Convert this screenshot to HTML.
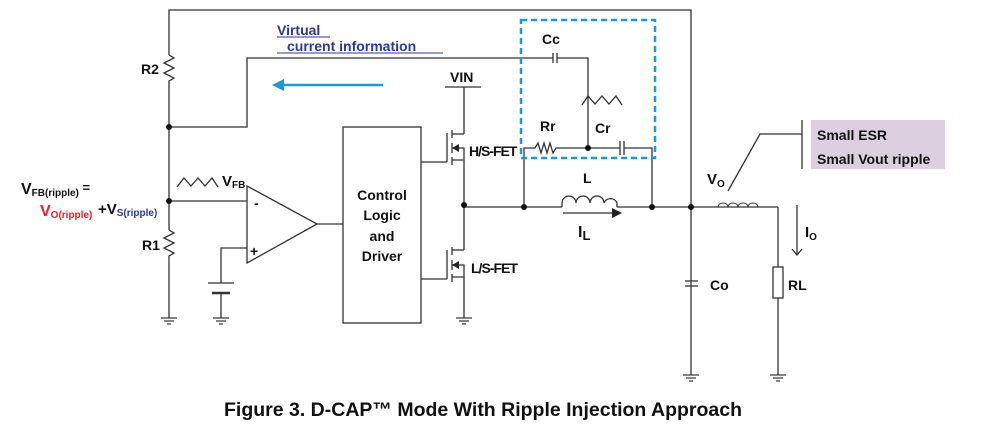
<!DOCTYPE html>
<html><head><meta charset="utf-8"><style>
html,body{margin:0;padding:0;background:#fff;}
svg{display:block;font-family:"Liberation Sans",Arial,sans-serif;font-weight:bold;}
</style></head><body>
<svg width="985" height="441" viewBox="0 0 985 441" xmlns="http://www.w3.org/2000/svg">
<g stroke="#333" stroke-width="1.3" fill="none">
<polyline points="169,55 169,10 691,10 691,375"/>
<polyline points="169,55 174,58 164,63 174,68 164,73 174,78 169,81 169,230"/>
<polyline points="169,230 174,233 164,238 174,243 164,248 174,253 169,256 169,318"/>
<polyline points="169,127 247,127 247,58 553,58"/>
<line x1="553" y1="53" x2="553" y2="63"/><line x1="557" y1="53" x2="557" y2="63"/>
<polyline points="557,58 588,58 588,148"/>
<polyline points="582,105 588,96 595,104 602,96 609,104 616,96 622,105"/>
<polyline points="524,207 524,148 535,148 538,143 541,153 544,143 547,153 550,143 553,153 556,148 588,148 620,148"/>
<line x1="620" y1="141" x2="620" y2="155"/><line x1="624" y1="141" x2="624" y2="155"/>
<polyline points="624,148 652,148 652,207"/>
<line x1="463" y1="207" x2="562" y2="207"/>
<path d="M562,207 v-4 a7,7 0 0 1 14,0 a7,7 0 0 1 14,0 a7,7 0 0 1 14,0 a7,7 0 0 1 13,0 v4"/>
<line x1="617" y1="207" x2="778" y2="207"/>
<path d="M718,207 a5,4 0 0 1 10,0 a5,4 0 0 1 10,0 a5,4 0 0 1 10,0 a5,4 0 0 1 10,0" stroke-width="1"/>
<polyline points="778,207 778,267"/>
<rect x="773" y="267" width="10" height="31"/>
<line x1="778" y1="298" x2="778" y2="375"/>
<line x1="685" y1="281" x2="698" y2="281"/><line x1="685" y1="286" x2="698" y2="286"/>
<polyline points="728,191 760,134 802,134"/>
<line x1="802" y1="120" x2="802" y2="169"/>
<line x1="797" y1="205" x2="797" y2="255"/>
<polyline points="792,249 797,255 802,249"/>
<rect x="343" y="127" width="78" height="196"/>
<polygon points="247,186 247,263 317,224"/>
<line x1="169" y1="201" x2="247" y2="201"/>
<line x1="317" y1="224" x2="343" y2="224"/>
<polyline points="247,248 221,248 221,283"/>
<line x1="208" y1="283" x2="234" y2="283"/>
<line x1="212" y1="293" x2="230" y2="293" stroke-width="2.5"/>
<line x1="221" y1="293" x2="221" y2="318"/>
<polyline points="177,187 184,178 191,186 198,178 205,186 212,178 218,187"/>
<line x1="445" y1="87" x2="481" y2="87"/>
<line x1="464" y1="87" x2="464" y2="134"/>
<line x1="421" y1="162" x2="447" y2="162"/>
<line x1="447" y1="133" x2="447" y2="162"/>
<line x1="452" y1="130" x2="452" y2="138"/><line x1="452" y1="143" x2="452" y2="153"/><line x1="452" y1="157" x2="452" y2="165"/>
<polyline points="452,134 464,134"/>
<polyline points="452,148 464,148 464,160 452,160"/>
<line x1="464" y1="160" x2="464" y2="250"/>
<line x1="421" y1="279" x2="447" y2="279"/>
<line x1="447" y1="250" x2="447" y2="279"/>
<line x1="452" y1="247" x2="452" y2="255"/><line x1="452" y1="260" x2="452" y2="270"/><line x1="452" y1="274" x2="452" y2="282"/>
<polyline points="452,250 464,250"/>
<polyline points="452,265 464,265 464,277 452,277"/>
<line x1="464" y1="277" x2="464" y2="318"/>
<line x1="563" y1="213" x2="612" y2="213"/>
</g>
<polygon points="622,213 612,208 612,218" fill="#222"/>
<polygon points="452,148 459,144 459,152" fill="#222"/>
<polygon points="452,265 459,261 459,269" fill="#222"/>
<g stroke="#333" stroke-width="1.2">
<g transform="translate(169,318)"><line x1="-8" y1="0" x2="8" y2="0"/><line x1="-5" y1="3" x2="5" y2="3"/><line x1="-2" y1="6" x2="2" y2="6"/></g>
<g transform="translate(221,318)"><line x1="-8" y1="0" x2="8" y2="0"/><line x1="-5" y1="3" x2="5" y2="3"/><line x1="-2" y1="6" x2="2" y2="6"/></g>
<g transform="translate(464,318)"><line x1="-8" y1="0" x2="8" y2="0"/><line x1="-5" y1="3" x2="5" y2="3"/><line x1="-2" y1="6" x2="2" y2="6"/></g>
<g transform="translate(691,375)"><line x1="-8" y1="0" x2="8" y2="0"/><line x1="-5" y1="3" x2="5" y2="3"/><line x1="-2" y1="6" x2="2" y2="6"/></g>
<g transform="translate(778,375)"><line x1="-8" y1="0" x2="8" y2="0"/><line x1="-5" y1="3" x2="5" y2="3"/><line x1="-2" y1="6" x2="2" y2="6"/></g>
</g>
<g fill="#111">
<circle cx="169" cy="127" r="3"/><circle cx="169" cy="201" r="3"/>
<circle cx="464" cy="205" r="3"/><circle cx="524" cy="207" r="3"/>
<circle cx="588" cy="148" r="3"/><circle cx="652" cy="207" r="3"/><circle cx="691" cy="207" r="3"/>
</g>
<rect x="521" y="20" width="134" height="138" fill="none" stroke="#1a9ad6" stroke-width="2.5" stroke-dasharray="6,4"/>
<line x1="282" y1="85" x2="383" y2="85" stroke="#1a9ad6" stroke-width="2.5"/>
<polygon points="272,85 284,79 284,91" fill="#1a9ad6"/>
<rect x="811" y="120" width="134" height="49" fill="#dccfe0"/>
<g font-size="14" fill="#111">
<text x="141" y="74">R2</text>
<text x="142" y="250">R1</text>
<text x="382" y="200" text-anchor="middle">Control</text>
<text x="382" y="220" text-anchor="middle">Logic</text>
<text x="382" y="241" text-anchor="middle">and</text>
<text x="382" y="261" text-anchor="middle">Driver</text>
<text x="450" y="82">VIN</text>
<text x="469" y="156" letter-spacing="-1">H/S-FET</text>
<text x="471" y="273" letter-spacing="-1">L/S-FET</text>
<text x="542" y="44">Cc</text>
<text x="540" y="131">Rr</text>
<text x="595" y="133">Cr</text>
<text x="583" y="183">L</text>
<text x="578" y="237" font-size="16">I<tspan font-size="13" dy="3">L</tspan></text>
<text x="707" y="184" font-size="15">V<tspan font-size="10" dy="3">O</tspan></text>
<text x="805" y="237" font-size="15">I<tspan font-size="10" dy="3">O</tspan></text>
<text x="710" y="290">Co</text>
<text x="788" y="290">RL</text>
<text x="817" y="140">Small ESR</text>
<text x="817" y="164">Small Vout ripple</text>
<text x="222" y="186" font-size="15">V<tspan font-size="10" dy="2">FB</tspan></text>
<text x="254" y="208" font-size="14">-</text>
<text x="250" y="256" font-size="14">+</text>
<text x="21" y="194" font-size="16">V<tspan font-size="10" dy="2">FB(ripple)</tspan><tspan font-size="13" dy="-4"> =</tspan></text>
<text x="40" y="216" font-size="16" fill="#e8202a">V<tspan font-size="10" dy="2">O(ripple)</tspan></text>
<text x="98" y="214" font-size="15">+V<tspan font-size="10" dy="2" fill="#2b3a9a">S(ripple)</tspan></text>
</g>
<g font-size="14" fill="#2b3a9a">
<text x="277" y="35">Virtual</text>
<text x="287" y="51">current information</text>
</g>
<line x1="277" y1="37" x2="330" y2="37" stroke="#2b3a9a" stroke-width="1"/>
<line x1="277" y1="53" x2="443" y2="53" stroke="#2b3a9a" stroke-width="1"/>
<text x="483" y="416" font-size="19.5" text-anchor="middle" fill="#111">Figure 3. D-CAP™ Mode With Ripple Injection Approach</text>
</svg>
</body></html>
